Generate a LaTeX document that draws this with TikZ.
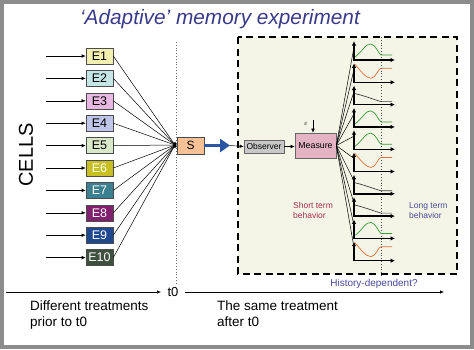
\documentclass[tikz,border=0pt]{standalone}
\usepackage{fontspec}
\setmainfont{Liberation Sans}
\usetikzlibrary{arrows.meta}
\definecolor{framegray}{HTML}{8C8C8C}
\definecolor{titleblue}{HTML}{3A3A8A}
\definecolor{panel}{HTML}{F4F5E6}
\definecolor{cA}{HTML}{F2F0B0}
\definecolor{cB}{HTML}{C6E6E6}
\definecolor{cC}{HTML}{E8B8E2}
\definecolor{cD}{HTML}{C0C6EA}
\definecolor{cE}{HTML}{D8E8C8}
\definecolor{cF}{HTML}{C8C020}
\definecolor{cG}{HTML}{3A8090}
\definecolor{cH}{HTML}{80206E}
\definecolor{cI}{HTML}{204890}
\definecolor{cJ}{HTML}{3E503E}
\definecolor{sfill}{HTML}{F8C296}
\definecolor{obsfill}{HTML}{C8C8C8}
\definecolor{measfill}{HTML}{E4B4C4}
\definecolor{bigblue}{HTML}{2A55A5}
\definecolor{cgreen}{HTML}{3A9A3A}
\definecolor{cred}{HTML}{E07040}
\definecolor{cgray}{HTML}{404040}
\definecolor{shortred}{HTML}{A83050}
\definecolor{longblue}{HTML}{4A4A9A}
\begin{document}
\begin{tikzpicture}[x=1pt,y=-1pt,
  ebox/.style={draw=black!70, line width=0.6pt, minimum width=27pt, minimum height=16pt, inner sep=0pt, font=\fontsize{12.5}{13}\selectfont},
  inarrow/.style={-{Latex[length=4pt,width=3.5pt]}, line width=0.5pt},
  fanline/.style={line width=0.5pt},
  axisline/.style={line width=1.4pt, -{Latex[length=4.5pt,width=4.5pt]}},
  greenc/.style={cgreen, line width=0.7pt},
  redc/.style={cred, line width=0.7pt},
  grayc/.style={cgray, line width=0.7pt},
  smalltext/.style={font=\fontsize{8.5}{10.5}\selectfont, align=left, anchor=north west, inner sep=0pt},
  bottomtext/.style={font=\fontsize{13.5}{15.5}\selectfont, align=left, anchor=north west, inner sep=0pt}
]
\useasboundingbox (0,0) rectangle (474,349);
\fill[framegray] (0,0) rectangle (474,349);
\fill[white] (4,4) rectangle (470,345);

% panel
\draw[line width=2pt, dash pattern=on 7pt off 4.5pt, fill=panel] (238,37) rectangle (457,274);

% title
\node[font=\fontsize{20.8}{24}\selectfont\itshape, text=titleblue] (title) at (220,19) {‘Adaptive’ memory experiment};

% CELLS
\node[font=\fontsize{20}{22}\selectfont, rotate=90] (cells) at (26,155) {CELLS};

% dotted lines
\draw[black!60, dotted, line width=0.8pt] (176,42) -- (176,283);
\draw[black!70, dotted, line width=0.8pt] (381,37) -- (381,276);

% E boxes
\coordinate (fan) at (175,145);
\foreach \i/\c/\t in {1/cA/black,2/cB/black,3/cC/black,4/cD/black,5/cE/black,6/cF/white,7/cG/white,8/cH/white,9/cI/white,10/cJ/white}{
  \pgfmathsetmacro{\yy}{56+22.4*(\i-1)}
  \node[ebox, fill=\c, text=\t] (e\i) at (99.5,\yy) {E\i};
  \coordinate (in\i) at (46,\yy);
  \draw[inarrow] (in\i) -- (e\i.west);
  \draw[fanline] (e\i.east) -- (fan);
}
\fill (fan) ellipse (1.5pt and 3pt);

% S
\node[draw=black!70, line width=0.6pt, fill=sfill, minimum width=27pt, minimum height=17pt, inner sep=0pt, font=\fontsize{12}{13}\selectfont] (S) at (190.5,145.5) {S};
\coordinate (bigend) at (230,145.5);
\draw[bigblue, line width=3pt, -{Triangle[length=10pt,width=13pt]}] (S.east) -- (bigend);

% Observer & Measure
\node[draw=black!60, line width=0.6pt, fill=obsfill, minimum width=40pt, minimum height=13pt, inner sep=0pt, font=\fontsize{8.5}{9}\selectfont] (obs) at (264,146.5) {Observer};
\node[draw=black!60, line width=0.6pt, fill=measfill, minimum width=41pt, minimum height=25pt, inner sep=0pt, font=\fontsize{8.8}{9}\selectfont] (meas) at (315.5,145.5) {Measure};
\draw[inarrow] (bigend) -- (obs.west);
\draw[inarrow] (obs.east) -- (meas.west |- obs.east);
\node[font=\fontsize{7}{8}\selectfont, inner sep=0pt] (eps) at (306,124) {$\varepsilon$};
\coordinate (epstop) at (313,120);
\draw[inarrow] (epstop) -- (meas.north -| epstop);

% plots
\foreach \i/\k in {1/g,2/r,3/y,4/g,5/g,6/r,7/y,8/y,9/g,10/r}{
  \pgfmathsetmacro{\bb}{60+22.3*(\i-1)}
  \coordinate (p\i) at (354,\bb);
  \coordinate (pt\i) at (354,\bb-13);
  \draw[fanline] (meas.east) -- (pt\i);
  \begin{scope}[shift={(p\i)}]
    \if\k g
      \draw[greenc] (1,-3) .. controls (8,-8) and (12,-17) .. (17,-16) .. controls (22,-15) and (24,-7) .. (27,-5) -- (38,-5);
    \fi
    \if\k r
      \draw[redc] (1,-18) .. controls (6,-12) and (12,-4) .. (17,-4) .. controls (22,-4) and (24,-14) .. (27,-14) -- (38,-14);
    \fi
    \if\k y
      \draw[grayc] (1,-11) .. controls (10,-9) and (20,-5) .. (27,-3) -- (38,-3);
    \fi
    \draw[axisline] (0,0.7) -- (0,-19);
    \draw[axisline] (-0.7,0) -- (41,0);
  \end{scope}
}

% labels in panel
\node[smalltext, text=shortred] (short) at (293,202) {Short term\\behavior};
\node[smalltext, text=longblue] (long) at (409,202) {Long term\\behavior};
\node[font=\fontsize{10}{11}\selectfont, text=longblue] (hist) at (374,284) {History-dependent?};

% time axis
\node[font=\fontsize{13}{14}\selectfont, inner sep=0pt] (t0) at (173,292) {t0};
\coordinate (tstart) at (6,292);
\coordinate (tend) at (444,292);
\coordinate (tmid1) at (161,292);
\coordinate (tmid2) at (185,292);
\draw[inarrow, line width=0.6pt] (tstart) -- (tmid1);
\draw[inarrow, line width=0.6pt] (tmid2) -- (tend);
\node[bottomtext] (before) at (30,301) {Different treatments\\prior to t0};
\node[bottomtext] (after) at (217,301) {The same treatment\\after t0};
\end{tikzpicture}
\end{document}
